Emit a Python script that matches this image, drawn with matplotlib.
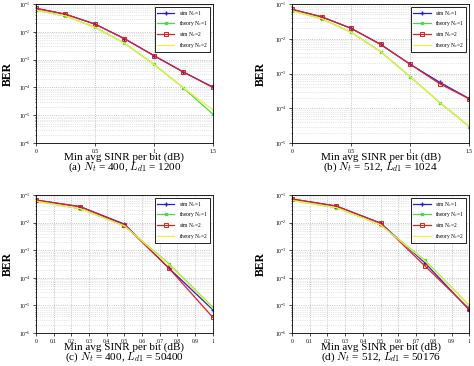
import numpy as np
import matplotlib
matplotlib.use('Agg')
import matplotlib.pyplot as plt

plt.rcParams['font.family'] = 'serif'
plt.rcParams['font.serif'] = ['Liberation Serif', 'DejaVu Serif']
plt.rcParams['mathtext.fontset'] = 'cm'

# SINR (dB) values
x_a = [0, 0.25, 0.5, 0.75, 1.0, 1.25, 1.5]
x_c = [0, 0.25, 0.5, 0.75, 1.0]

# (a) Nt=400, Ld1=1200
a_sim1 = [0.07, 0.043, 0.019, 5.7e-3, 1.4e-3, 3.6e-4, 1.04e-4]
a_th1 = [0.06, 0.037, 0.0146, 3.9e-3, 6.8e-4, 9.7e-5, 1.1e-5]
a_sim2 = [0.07, 0.043, 0.019, 5.7e-3, 1.4e-3, 3.6e-4, 1.0e-4]
a_th2 = [0.06, 0.037, 0.0146, 3.9e-3, 6.8e-4, 9.7e-5, 1.6e-5]

# (b) Nt=512, Ld1=1024
b_sim1 = [0.07, 0.043, 0.02, 6.9e-3, 1.85e-3, 5.6e-4, 1.9e-4]
b_th1 = [0.064, 0.038, 0.0154, 4.3e-3, 8.1e-4, 1.47e-4, 3.0e-5]
b_sim2 = [0.07, 0.043, 0.02, 6.9e-3, 1.85e-3, 5.1e-4, 1.86e-4]
b_th2 = [0.064, 0.038, 0.0154, 4.3e-3, 8.1e-4, 1.47e-4, 3.0e-5]

# (c) Nt=400, Ld1=50400
c_sim1 = [0.066, 0.038, 8.9e-3, 2.3e-4, 7e-6]
c_th1 = [0.06, 0.032, 7.7e-3, 3.3e-4, 8.5e-6]
c_sim2 = [0.066, 0.038, 8.2e-3, 2.3e-4, 3.7e-6]
c_th2 = [0.06, 0.032, 7.7e-3, 3.1e-4, 8e-6]

# (d) Nt=512, Ld1=50176
d_sim1 = [0.072, 0.040, 9.6e-3, 3.5e-4, 6.9e-6]
d_th1 = [0.064, 0.035, 8.3e-3, 4.3e-4, 1e-5]
d_sim2 = [0.072, 0.040, 9.6e-3, 2.7e-4, 7.5e-6]
d_th2 = [0.064, 0.035, 8.3e-3, 4.1e-4, 1e-5]

labels = ['sim N$_c$=1', 'theory N$_c$=1', 'sim N$_c$=2', 'theory N$_c$=2']
captions = [r'(a) $N_t$ = 400, $L_{d1}$ = 1200',
            r'(b) $N_t$ = 512, $L_{d1}$ = 1024',
            r'(c) $N_t$ = 400, $L_{d1}$ = 50400',
            r'(d) $N_t$ = 512, $L_{d1}$ = 50176']


def draw_panel(ax, x, sim1, th1, sim2, th2, ylim, xticks, caption, ylab_x):
    ax.semilogy(x, sim1, color='#1f1fe0', marker='+', ms=3, lw=0.9, label=labels[0])
    ax.semilogy(x, th1, color='#40e040', marker='x', ms=2, lw=0.9, label=labels[1])
    ax.semilogy(x, sim2, color='#e02020', marker='s', ms=3, mfc='none', mew=0.7, lw=0.9, label=labels[2])
    ax.semilogy(x, th2, color='#f0f040', lw=0.9, label=labels[3])
    ax.set_xlim(x[0], x[-1])
    ax.set_ylim(*ylim)
    ax.set_xticks(xticks)
    ax.set_xticklabels([f'{t:g}' for t in xticks])
    ax.tick_params(labelsize=4, length=2, width=0.5, pad=2)
    ax.tick_params(which='minor', length=1, width=0.4)
    ax.grid(True, which='major', color='#b0b0b0', ls=':', lw=0.6)
    ax.grid(True, which='minor', color='#d0d0d0', ls=':', lw=0.5)
    for s in ax.spines.values():
        s.set_linewidth(0.6)
    ax.set_ylabel('BER', fontsize=8.5, fontweight='bold')
    ax.yaxis.set_label_coords(ylab_x, 0.5)
    ax.text(0.5, -0.10, 'Min avg SINR per bit (dB)', transform=ax.transAxes,
            ha='center', va='center', fontsize=8)
    ax.text(0.5, -0.175, caption, transform=ax.transAxes,
            ha='center', va='center', fontsize=8)
    leg = ax.legend(loc='upper right', fontsize=4, handlelength=3.2, borderpad=0.35,
                    labelspacing=0.3, fancybox=False, framealpha=1, edgecolor='black')
    leg.get_frame().set_linewidth(0.6)


fig = plt.figure(figsize=(4.74, 3.66), dpi=100)
ax_a = fig.add_axes([0.076, 0.609, 0.373, 0.38])
ax_b = fig.add_axes([0.616, 0.609, 0.374, 0.38])
ax_c = fig.add_axes([0.076, 0.090, 0.373, 0.377])
ax_d = fig.add_axes([0.616, 0.090, 0.374, 0.377])

draw_panel(ax_a, x_a, a_sim1, a_th1, a_sim2, a_th2, (1e-6, 1e-1), [0, 0.5, 1, 1.5], captions[0], -0.125)
draw_panel(ax_b, x_a, b_sim1, b_th1, b_sim2, b_th2, (1e-5, 1e-1), [0, 0.5, 1, 1.5], captions[1], -0.14)
ticks_c = [round(0.1 * i, 1) for i in range(11)]
draw_panel(ax_c, x_c, c_sim1, c_th1, c_sim2, c_th2, (1e-6, 1e-1), ticks_c, captions[2], -0.125)
draw_panel(ax_d, x_c, d_sim1, d_th1, d_sim2, d_th2, (1e-6, 1e-1), ticks_c, captions[3], -0.14)

fig.savefig('out.png', dpi=100)
